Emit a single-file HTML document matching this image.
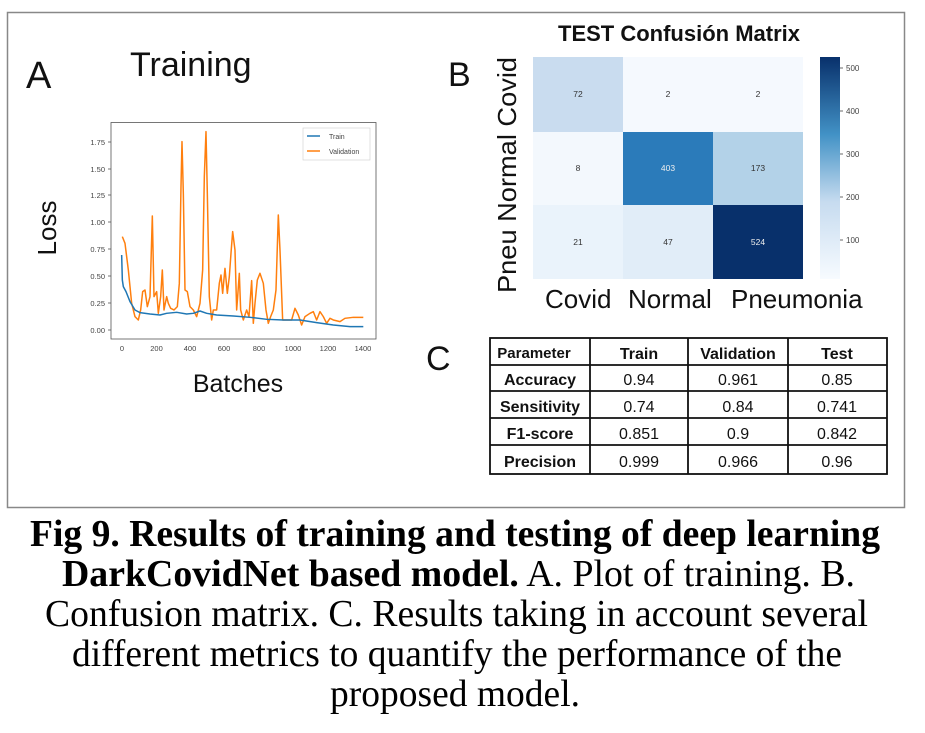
<!DOCTYPE html>
<html><head><meta charset="utf-8"><style>
body{margin:0;background:#fff;width:925px;height:728px;overflow:hidden}
</style></head><body>
<svg width="925" height="728" viewBox="0 0 925 728" xmlns="http://www.w3.org/2000/svg" font-family="Liberation Sans, sans-serif">
<rect x="7.5" y="12.5" width="897" height="495" fill="#fff" stroke="#888" stroke-width="1.5"/>
<text x="26" y="88" font-size="38" fill="#111">A</text>
<text x="130" y="76" font-size="34" fill="#111">Training</text>
<text transform="translate(56,228) rotate(-90)" text-anchor="middle" font-size="26" fill="#111">Loss</text>
<text x="238" y="392" text-anchor="middle" font-size="25" fill="#111">Batches</text>
<rect x="111" y="122.5" width="265" height="216.5" fill="#fff" stroke="#555" stroke-width="0.8"/>
<g font-size="7.5" fill="#444" text-anchor="end">
<text x="105" y="333">0.00</text><text x="105" y="306">0.25</text><text x="105" y="279">0.50</text><text x="105" y="252">0.75</text><text x="105" y="225">1.00</text><text x="105" y="198">1.25</text><text x="105" y="172">1.50</text><text x="105" y="145">1.75</text>
</g>
<g stroke="#555" stroke-width="0.8">
<line x1="108" y1="330" x2="111" y2="330"/><line x1="108" y1="303" x2="111" y2="303"/><line x1="108" y1="276" x2="111" y2="276"/><line x1="108" y1="249" x2="111" y2="249"/><line x1="108" y1="222" x2="111" y2="222"/><line x1="108" y1="195" x2="111" y2="195"/><line x1="108" y1="169" x2="111" y2="169"/><line x1="108" y1="142" x2="111" y2="142"/>
</g>
<g font-size="7.5" fill="#444" text-anchor="middle">
<text x="122" y="351">0</text><text x="156.5" y="351">200</text><text x="190" y="351">400</text><text x="224" y="351">600</text><text x="259" y="351">800</text><text x="293" y="351">1000</text><text x="328" y="351">1200</text><text x="363" y="351">1400</text>
</g>
<g transform="translate(100,110) scale(0.3333)" fill="none" stroke-width="4.5" stroke-linejoin="round">
<polyline stroke="#ff7f0e" points="67,380 75,400 85,480 95,580 105,620 115,630 122,600 128,545 135,540 142,590 150,560 157,318 162,560 170,545 175,610 182,560 187,480 192,600 200,560 205,580 212,595 222,600 232,590 238,520 243,230 246,95 250,250 255,540 262,545 270,590 280,600 290,620 300,580 308,480 313,200 318,65 322,250 328,560 335,630 340,600 350,600 358,520 363,495 368,550 375,475 382,550 388,500 393,430 398,365 405,420 410,600 413,560 418,490 422,600 430,630 440,600 447,620 455,512 460,640 465,580 472,510 480,490 490,520 498,600 505,640 512,620 520,600 528,540 535,315 540,420 548,630 560,630 575,630 585,595 595,615 605,645 615,620 630,610 640,605 650,630 660,605 670,620 680,640 690,625 700,630 720,635 735,625 760,622 790,622"/>
<polyline stroke="#1f77b4" points="65,435 67,510 70,530 78,545 90,575 105,600 120,608 150,612 180,615 200,610 230,607 260,612 280,610 300,603 320,610 350,615 400,618 450,622 500,628 550,630 600,630 650,638 700,645 750,650 790,650"/>
</g>
<rect x="303" y="128" width="67" height="32" fill="#fff" stroke="#ccc" stroke-width="0.6"/>
<line x1="307" y1="136" x2="320" y2="136" stroke="#1f77b4" stroke-width="1.5"/>
<line x1="307" y1="151" x2="320" y2="151" stroke="#ff7f0e" stroke-width="1.5"/>
<text x="329" y="139" font-size="7" fill="#444">Train</text>
<text x="329" y="154" font-size="7" fill="#444">Validation</text>
<text x="448" y="86" font-size="34" fill="#111">B</text>
<text x="679" y="41" text-anchor="middle" font-size="22" font-weight="bold" fill="#111">TEST Confusión Matrix</text>
<rect x="533" y="57" width="90" height="75" fill="#c9dcef"/>
<rect x="623" y="57" width="90" height="75" fill="#f5f9fe"/>
<rect x="713" y="57" width="90" height="75" fill="#f5f9fe"/>
<rect x="533" y="132" width="90" height="73" fill="#f3f8fd"/>
<rect x="623" y="132" width="90" height="73" fill="#2b7bba"/>
<rect x="713" y="132" width="90" height="73" fill="#b3d2e8"/>
<rect x="533" y="205" width="90" height="74" fill="#eaf3fb"/>
<rect x="623" y="205" width="90" height="74" fill="#e1edf8"/>
<rect x="713" y="205" width="90" height="74" fill="#08306b"/>
<g font-size="8.5" text-anchor="middle">
<text x="578" y="97" fill="#333">72</text><text x="668" y="97" fill="#333">2</text><text x="758" y="97" fill="#333">2</text>
<text x="578" y="171" fill="#333">8</text><text x="668" y="171" fill="#eee">403</text><text x="758" y="171" fill="#333">173</text>
<text x="578" y="245" fill="#333">21</text><text x="668" y="245" fill="#333">47</text><text x="758" y="245" fill="#eee">524</text>
</g>
<defs><linearGradient id="cb" x1="0" y1="1" x2="0" y2="0"><stop offset="0" stop-color="#f7fbff"/><stop offset="0.35" stop-color="#c6dbef"/><stop offset="0.65" stop-color="#4292c6"/><stop offset="1" stop-color="#08306b"/></linearGradient></defs>
<rect x="820" y="57" width="20" height="222" fill="url(#cb)"/>
<g stroke="#444" stroke-width="0.8"><line x1="840" y1="68" x2="843" y2="68"/><line x1="840" y1="111" x2="843" y2="111"/><line x1="840" y1="154" x2="843" y2="154"/><line x1="840" y1="197" x2="843" y2="197"/><line x1="840" y1="240" x2="843" y2="240"/></g>
<g font-size="8" fill="#444">
<text x="846" y="71">500</text><text x="846" y="114">400</text><text x="846" y="157">300</text><text x="846" y="200">200</text><text x="846" y="243">100</text>
</g>
<text transform="translate(516,175) rotate(-90)" text-anchor="middle" font-size="26" fill="#111" textLength="236" lengthAdjust="spacingAndGlyphs">Pneu  Normal Covid</text>
<text x="545" y="308" font-size="26" fill="#111">Covid</text>
<text x="628" y="308" font-size="26" fill="#111">Normal</text>
<text x="731" y="308" font-size="26" fill="#111">Pneumonia</text>
<text x="426" y="370" font-size="34" fill="#111">C</text>
<g stroke="#111" stroke-width="1.8" fill="none">
<rect x="490" y="338" width="397" height="136"/>
<line x1="590" y1="338" x2="590" y2="474"/><line x1="688" y1="338" x2="688" y2="474"/><line x1="788" y1="338" x2="788" y2="474"/>
<line x1="490" y1="365" x2="887" y2="365"/><line x1="490" y1="391" x2="887" y2="391"/><line x1="490" y1="418" x2="887" y2="418"/><line x1="490" y1="445" x2="887" y2="445"/>
</g>
<g font-size="16" fill="#111" text-anchor="middle">
<text x="534" y="358" font-weight="bold" font-size="15">Parameter</text>
<text x="639" y="359" font-weight="bold">Train</text><text x="738" y="359" font-weight="bold">Validation</text><text x="837" y="359" font-weight="bold">Test</text>
<text x="540" y="385" font-weight="bold">Accuracy</text><text x="639" y="385">0.94</text><text x="738" y="385">0.961</text><text x="837" y="385">0.85</text>
<text x="540" y="412" font-weight="bold">Sensitivity</text><text x="639" y="412">0.74</text><text x="738" y="412">0.84</text><text x="837" y="412">0.741</text>
<text x="540" y="439" font-weight="bold">F1-score</text><text x="639" y="439">0.851</text><text x="738" y="439">0.9</text><text x="837" y="439">0.842</text>
<text x="540" y="467" font-weight="bold">Precision</text><text x="639" y="467">0.999</text><text x="738" y="467">0.966</text><text x="837" y="467">0.96</text>
</g>
<g font-family="Liberation Serif, serif" font-size="38" fill="#000">
<text x="30" y="546" font-weight="bold" textLength="850" lengthAdjust="spacingAndGlyphs">Fig 9. Results of training and testing of deep learning</text>
<text x="62" y="586" textLength="793" lengthAdjust="spacingAndGlyphs"><tspan font-weight="bold">DarkCovidNet based model.</tspan> A. Plot of training. B.</text>
<text x="45" y="626" textLength="823" lengthAdjust="spacingAndGlyphs">Confusion matrix. C. Results taking in account several</text>
<text x="72" y="666" textLength="770" lengthAdjust="spacingAndGlyphs">different metrics to quantify the performance of the</text>
<text x="330" y="706" textLength="250" lengthAdjust="spacingAndGlyphs">proposed model.</text>
</g>
</svg>
</body></html>
